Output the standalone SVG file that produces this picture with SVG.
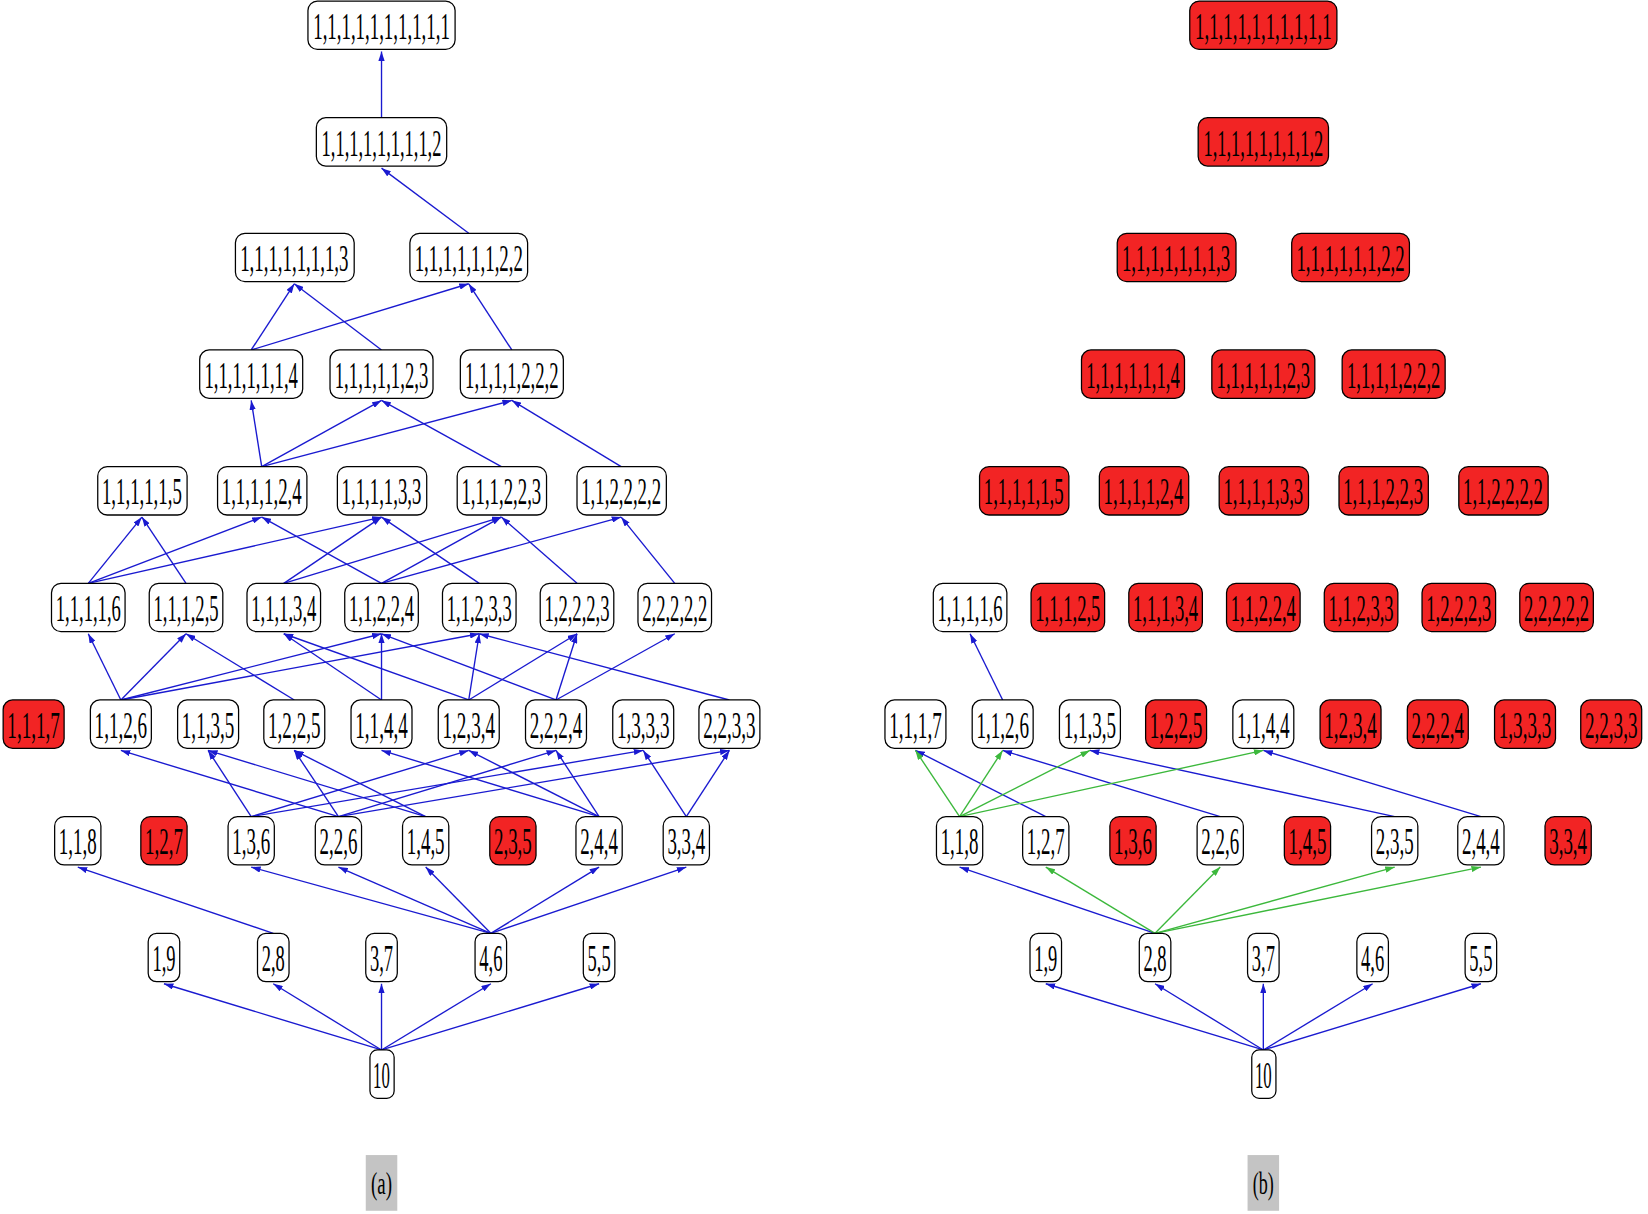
<svg xmlns="http://www.w3.org/2000/svg" width="1648" height="1214" viewBox="0 0 1648 1214">
<style>
.n rect{fill:#fff;stroke:#000;stroke-width:1.2}
.r rect{fill:#f22424;stroke:#000;stroke-width:1.2}
text{font-family:"Liberation Serif","DejaVu Serif",serif;font-size:36px;fill:#000;text-anchor:middle}
.eb line{stroke:#1a1ad0;stroke-width:1.3;marker-end:url(#ab)}
.eg line{stroke:#3cb83c;stroke-width:1.3;marker-end:url(#ag)}
.lab rect{fill:#c4c4c4}
</style>
<defs>
<marker id="ab" markerUnits="userSpaceOnUse" markerWidth="9" markerHeight="6" refX="9" refY="3" orient="auto"><path d="M0,0L9,3L0,6z" fill="#1a1ad0"/></marker>
<marker id="ag" markerUnits="userSpaceOnUse" markerWidth="9" markerHeight="6" refX="9" refY="3" orient="auto"><path d="M0,0L9,3L0,6z" fill="#3cb83c"/></marker>
</defs>
<rect width="1648" height="1214" fill="#fff"/>
<g transform="scale(1.05102)">
<g id="connectors">
<g class="eb">
<!-- panel a -->
<line x1="363" y1="112" x2="363" y2="49"/>
<line x1="446" y1="222" x2="363" y2="160"/>
<line x1="239" y1="333" x2="280" y2="270"/><line x1="239" y1="333" x2="446" y2="270"/><line x1="363" y1="333" x2="280" y2="270"/><line x1="487" y1="333" x2="446" y2="270"/>
<line x1="249" y1="444" x2="239" y2="381"/><line x1="249" y1="444" x2="363" y2="381"/><line x1="249" y1="444" x2="487" y2="381"/><line x1="477" y1="444" x2="363" y2="381"/><line x1="591" y1="444" x2="487" y2="381"/>
<line x1="84" y1="555" x2="135" y2="492"/><line x1="84" y1="555" x2="249" y2="492"/><line x1="84" y1="555" x2="363" y2="492"/><line x1="177" y1="555" x2="135" y2="492"/><line x1="270" y1="555" x2="363" y2="492"/><line x1="270" y1="555" x2="477" y2="492"/><line x1="363" y1="555" x2="249" y2="492"/><line x1="363" y1="555" x2="477" y2="492"/><line x1="363" y1="555" x2="591" y2="492"/><line x1="456" y1="555" x2="363" y2="492"/><line x1="549" y1="555" x2="477" y2="492"/><line x1="642" y1="555" x2="591" y2="492"/>
<line x1="115" y1="666" x2="84" y2="603"/><line x1="115" y1="666" x2="177" y2="603"/><line x1="115" y1="666" x2="363" y2="603"/><line x1="115" y1="666" x2="456" y2="603"/><line x1="280" y1="666" x2="177" y2="603"/><line x1="363" y1="666" x2="270" y2="603"/><line x1="363" y1="666" x2="363" y2="603"/><line x1="446" y1="666" x2="270" y2="603"/><line x1="446" y1="666" x2="456" y2="603"/><line x1="446" y1="666" x2="549" y2="603"/><line x1="529" y1="666" x2="363" y2="603"/><line x1="529" y1="666" x2="549" y2="603"/><line x1="529" y1="666" x2="642" y2="603"/><line x1="694" y1="666" x2="456" y2="603"/>
<line x1="239" y1="777" x2="198" y2="714"/><line x1="239" y1="777" x2="446" y2="714"/><line x1="239" y1="777" x2="612" y2="714"/><line x1="322" y1="777" x2="115" y2="714"/><line x1="322" y1="777" x2="280" y2="714"/><line x1="322" y1="777" x2="529" y2="714"/><line x1="322" y1="777" x2="694" y2="714"/><line x1="405" y1="777" x2="198" y2="714"/><line x1="405" y1="777" x2="280" y2="714"/><line x1="570" y1="777" x2="363" y2="714"/><line x1="570" y1="777" x2="446" y2="714"/><line x1="570" y1="777" x2="529" y2="714"/><line x1="653" y1="777" x2="612" y2="714"/><line x1="653" y1="777" x2="694" y2="714"/>
<line x1="260" y1="888" x2="74" y2="825"/><line x1="467" y1="888" x2="239" y2="825"/><line x1="467" y1="888" x2="322" y2="825"/><line x1="467" y1="888" x2="405" y2="825"/><line x1="467" y1="888" x2="570" y2="825"/><line x1="467" y1="888" x2="653" y2="825"/>
<line x1="363" y1="999" x2="156" y2="936"/><line x1="363" y1="999" x2="260" y2="936"/><line x1="363" y1="999" x2="363" y2="936"/><line x1="363" y1="999" x2="467" y2="936"/><line x1="363" y1="999" x2="570" y2="936"/>
<!-- panel b -->
<line x1="954" y1="666" x2="923" y2="603"/>
<line x1="995" y1="777" x2="871" y2="714"/><line x1="1161" y1="777" x2="954" y2="714"/><line x1="1327" y1="777" x2="1037" y2="714"/><line x1="1409" y1="777" x2="1202" y2="714"/>
<line x1="1099" y1="888" x2="913" y2="825"/>
<line x1="1202" y1="999" x2="995" y2="936"/><line x1="1202" y1="999" x2="1099" y2="936"/><line x1="1202" y1="999" x2="1202" y2="936"/><line x1="1202" y1="999" x2="1306" y2="936"/><line x1="1202" y1="999" x2="1409" y2="936"/>
</g>
<g class="eg">
<line x1="913" y1="777" x2="871" y2="714"/><line x1="913" y1="777" x2="954" y2="714"/><line x1="913" y1="777" x2="1037" y2="714"/><line x1="913" y1="777" x2="1202" y2="714"/>
<line x1="1099" y1="888" x2="995" y2="825"/><line x1="1099" y1="888" x2="1161" y2="825"/><line x1="1099" y1="888" x2="1327" y2="825"/><line x1="1099" y1="888" x2="1409" y2="825"/>
</g>
</g>
<g id="nodes-a">
<g id="a0_0" class="n"><rect x="293" y="1" width="140" height="46" rx="9"/><text x="363" y="37" textLength="130" lengthAdjust="spacingAndGlyphs">1,1,1,1,1,1,1,1,1,1</text></g>
<g id="a1_0" class="n"><rect x="301" y="112" width="124" height="46" rx="9"/><text x="363" y="148" textLength="114" lengthAdjust="spacingAndGlyphs">1,1,1,1,1,1,1,1,2</text></g>
<g id="a2_0" class="n"><rect x="224" y="222" width="113" height="46" rx="9"/><text x="280" y="258" textLength="103" lengthAdjust="spacingAndGlyphs">1,1,1,1,1,1,1,3</text></g>
<g id="a2_1" class="n"><rect x="390" y="222" width="112" height="46" rx="9"/><text x="446" y="258" textLength="103" lengthAdjust="spacingAndGlyphs">1,1,1,1,1,1,2,2</text></g>
<g id="a3_0" class="n"><rect x="190" y="333" width="98" height="46" rx="9"/><text x="239" y="369" textLength="89" lengthAdjust="spacingAndGlyphs">1,1,1,1,1,1,4</text></g>
<g id="a3_1" class="n"><rect x="314" y="333" width="98" height="46" rx="9"/><text x="363" y="369" textLength="89" lengthAdjust="spacingAndGlyphs">1,1,1,1,1,2,3</text></g>
<g id="a3_2" class="n"><rect x="438" y="333" width="98" height="46" rx="9"/><text x="487" y="369" textLength="89" lengthAdjust="spacingAndGlyphs">1,1,1,1,2,2,2</text></g>
<g id="a4_0" class="n"><rect x="93" y="444" width="85" height="46" rx="9"/><text x="135" y="480" textLength="76" lengthAdjust="spacingAndGlyphs">1,1,1,1,1,5</text></g>
<g id="a4_1" class="n"><rect x="207" y="444" width="85" height="46" rx="9"/><text x="249" y="480" textLength="76" lengthAdjust="spacingAndGlyphs">1,1,1,1,2,4</text></g>
<g id="a4_2" class="n"><rect x="321" y="444" width="85" height="46" rx="9"/><text x="363" y="480" textLength="76" lengthAdjust="spacingAndGlyphs">1,1,1,1,3,3</text></g>
<g id="a4_3" class="n"><rect x="435" y="444" width="85" height="46" rx="9"/><text x="477" y="480" textLength="76" lengthAdjust="spacingAndGlyphs">1,1,1,2,2,3</text></g>
<g id="a4_4" class="n"><rect x="549" y="444" width="85" height="46" rx="9"/><text x="591" y="480" textLength="76" lengthAdjust="spacingAndGlyphs">1,1,2,2,2,2</text></g>
<g id="a5_0" class="n"><rect x="49" y="555" width="70" height="46" rx="9"/><text x="84" y="591" textLength="62" lengthAdjust="spacingAndGlyphs">1,1,1,1,6</text></g>
<g id="a5_1" class="n"><rect x="142" y="555" width="70" height="46" rx="9"/><text x="177" y="591" textLength="62" lengthAdjust="spacingAndGlyphs">1,1,1,2,5</text></g>
<g id="a5_2" class="n"><rect x="235" y="555" width="70" height="46" rx="9"/><text x="270" y="591" textLength="62" lengthAdjust="spacingAndGlyphs">1,1,1,3,4</text></g>
<g id="a5_3" class="n"><rect x="328" y="555" width="70" height="46" rx="9"/><text x="363" y="591" textLength="62" lengthAdjust="spacingAndGlyphs">1,1,2,2,4</text></g>
<g id="a5_4" class="n"><rect x="421" y="555" width="70" height="46" rx="9"/><text x="456" y="591" textLength="62" lengthAdjust="spacingAndGlyphs">1,1,2,3,3</text></g>
<g id="a5_5" class="n"><rect x="514" y="555" width="70" height="46" rx="9"/><text x="549" y="591" textLength="62" lengthAdjust="spacingAndGlyphs">1,2,2,2,3</text></g>
<g id="a5_6" class="n"><rect x="607" y="555" width="70" height="46" rx="9"/><text x="642" y="591" textLength="62" lengthAdjust="spacingAndGlyphs">2,2,2,2,2</text></g>
<g id="a6_0" class="r"><rect x="3" y="666" width="58" height="46" rx="9"/><text x="32" y="702" textLength="50" lengthAdjust="spacingAndGlyphs">1,1,1,7</text></g>
<g id="a6_1" class="n"><rect x="86" y="666" width="58" height="46" rx="9"/><text x="115" y="702" textLength="50" lengthAdjust="spacingAndGlyphs">1,1,2,6</text></g>
<g id="a6_2" class="n"><rect x="169" y="666" width="58" height="46" rx="9"/><text x="198" y="702" textLength="50" lengthAdjust="spacingAndGlyphs">1,1,3,5</text></g>
<g id="a6_3" class="n"><rect x="251" y="666" width="58" height="46" rx="9"/><text x="280" y="702" textLength="50" lengthAdjust="spacingAndGlyphs">1,2,2,5</text></g>
<g id="a6_4" class="n"><rect x="334" y="666" width="58" height="46" rx="9"/><text x="363" y="702" textLength="50" lengthAdjust="spacingAndGlyphs">1,1,4,4</text></g>
<g id="a6_5" class="n"><rect x="417" y="666" width="58" height="46" rx="9"/><text x="446" y="702" textLength="50" lengthAdjust="spacingAndGlyphs">1,2,3,4</text></g>
<g id="a6_6" class="n"><rect x="500" y="666" width="58" height="46" rx="9"/><text x="529" y="702" textLength="50" lengthAdjust="spacingAndGlyphs">2,2,2,4</text></g>
<g id="a6_7" class="n"><rect x="583" y="666" width="58" height="46" rx="9"/><text x="612" y="702" textLength="50" lengthAdjust="spacingAndGlyphs">1,3,3,3</text></g>
<g id="a6_8" class="n"><rect x="665" y="666" width="58" height="46" rx="9"/><text x="694" y="702" textLength="50" lengthAdjust="spacingAndGlyphs">2,2,3,3</text></g>
<g id="a7_0" class="n"><rect x="52" y="777" width="44" height="46" rx="9"/><text x="74" y="813" textLength="36" lengthAdjust="spacingAndGlyphs">1,1,8</text></g>
<g id="a7_1" class="r"><rect x="134" y="777" width="44" height="46" rx="9"/><text x="156" y="813" textLength="36" lengthAdjust="spacingAndGlyphs">1,2,7</text></g>
<g id="a7_2" class="n"><rect x="217" y="777" width="44" height="46" rx="9"/><text x="239" y="813" textLength="36" lengthAdjust="spacingAndGlyphs">1,3,6</text></g>
<g id="a7_3" class="n"><rect x="300" y="777" width="44" height="46" rx="9"/><text x="322" y="813" textLength="36" lengthAdjust="spacingAndGlyphs">2,2,6</text></g>
<g id="a7_4" class="n"><rect x="383" y="777" width="44" height="46" rx="9"/><text x="405" y="813" textLength="36" lengthAdjust="spacingAndGlyphs">1,4,5</text></g>
<g id="a7_5" class="r"><rect x="466" y="777" width="44" height="46" rx="9"/><text x="488" y="813" textLength="36" lengthAdjust="spacingAndGlyphs">2,3,5</text></g>
<g id="a7_6" class="n"><rect x="548" y="777" width="44" height="46" rx="9"/><text x="570" y="813" textLength="36" lengthAdjust="spacingAndGlyphs">2,4,4</text></g>
<g id="a7_7" class="n"><rect x="631" y="777" width="44" height="46" rx="9"/><text x="653" y="813" textLength="36" lengthAdjust="spacingAndGlyphs">3,3,4</text></g>
<g id="a8_0" class="n"><rect x="141" y="888" width="30" height="46" rx="8"/><text x="156" y="924" textLength="22" lengthAdjust="spacingAndGlyphs">1,9</text></g>
<g id="a8_1" class="n"><rect x="245" y="888" width="30" height="46" rx="8"/><text x="260" y="924" textLength="22" lengthAdjust="spacingAndGlyphs">2,8</text></g>
<g id="a8_2" class="n"><rect x="348" y="888" width="30" height="46" rx="8"/><text x="363" y="924" textLength="22" lengthAdjust="spacingAndGlyphs">3,7</text></g>
<g id="a8_3" class="n"><rect x="452" y="888" width="30" height="46" rx="8"/><text x="467" y="924" textLength="22" lengthAdjust="spacingAndGlyphs">4,6</text></g>
<g id="a8_4" class="n"><rect x="555" y="888" width="30" height="46" rx="8"/><text x="570" y="924" textLength="22" lengthAdjust="spacingAndGlyphs">5,5</text></g>
<g id="a9_0" class="n"><rect x="352" y="999" width="23" height="46" rx="7"/><text x="363" y="1035" textLength="16" lengthAdjust="spacingAndGlyphs">10</text></g>
</g>
<g id="nodes-b">
<g id="b0_0" class="r"><rect x="1132" y="1" width="140" height="46" rx="9"/><text x="1202" y="37" textLength="130" lengthAdjust="spacingAndGlyphs">1,1,1,1,1,1,1,1,1,1</text></g>
<g id="b1_0" class="r"><rect x="1140" y="112" width="124" height="46" rx="9"/><text x="1202" y="148" textLength="114" lengthAdjust="spacingAndGlyphs">1,1,1,1,1,1,1,1,2</text></g>
<g id="b2_0" class="r"><rect x="1063" y="222" width="113" height="46" rx="9"/><text x="1119" y="258" textLength="103" lengthAdjust="spacingAndGlyphs">1,1,1,1,1,1,1,3</text></g>
<g id="b2_1" class="r"><rect x="1229" y="222" width="112" height="46" rx="9"/><text x="1285" y="258" textLength="103" lengthAdjust="spacingAndGlyphs">1,1,1,1,1,1,2,2</text></g>
<g id="b3_0" class="r"><rect x="1029" y="333" width="98" height="46" rx="9"/><text x="1078" y="369" textLength="89" lengthAdjust="spacingAndGlyphs">1,1,1,1,1,1,4</text></g>
<g id="b3_1" class="r"><rect x="1153" y="333" width="98" height="46" rx="9"/><text x="1202" y="369" textLength="89" lengthAdjust="spacingAndGlyphs">1,1,1,1,1,2,3</text></g>
<g id="b3_2" class="r"><rect x="1277" y="333" width="98" height="46" rx="9"/><text x="1326" y="369" textLength="89" lengthAdjust="spacingAndGlyphs">1,1,1,1,2,2,2</text></g>
<g id="b4_0" class="r"><rect x="932" y="444" width="85" height="46" rx="9"/><text x="974" y="480" textLength="76" lengthAdjust="spacingAndGlyphs">1,1,1,1,1,5</text></g>
<g id="b4_1" class="r"><rect x="1046" y="444" width="85" height="46" rx="9"/><text x="1088" y="480" textLength="76" lengthAdjust="spacingAndGlyphs">1,1,1,1,2,4</text></g>
<g id="b4_2" class="r"><rect x="1160" y="444" width="85" height="46" rx="9"/><text x="1202" y="480" textLength="76" lengthAdjust="spacingAndGlyphs">1,1,1,1,3,3</text></g>
<g id="b4_3" class="r"><rect x="1274" y="444" width="85" height="46" rx="9"/><text x="1316" y="480" textLength="76" lengthAdjust="spacingAndGlyphs">1,1,1,2,2,3</text></g>
<g id="b4_4" class="r"><rect x="1388" y="444" width="85" height="46" rx="9"/><text x="1430" y="480" textLength="76" lengthAdjust="spacingAndGlyphs">1,1,2,2,2,2</text></g>
<g id="b5_0" class="n"><rect x="888" y="555" width="70" height="46" rx="9"/><text x="923" y="591" textLength="62" lengthAdjust="spacingAndGlyphs">1,1,1,1,6</text></g>
<g id="b5_1" class="r"><rect x="981" y="555" width="70" height="46" rx="9"/><text x="1016" y="591" textLength="62" lengthAdjust="spacingAndGlyphs">1,1,1,2,5</text></g>
<g id="b5_2" class="r"><rect x="1074" y="555" width="70" height="46" rx="9"/><text x="1109" y="591" textLength="62" lengthAdjust="spacingAndGlyphs">1,1,1,3,4</text></g>
<g id="b5_3" class="r"><rect x="1167" y="555" width="70" height="46" rx="9"/><text x="1202" y="591" textLength="62" lengthAdjust="spacingAndGlyphs">1,1,2,2,4</text></g>
<g id="b5_4" class="r"><rect x="1260" y="555" width="70" height="46" rx="9"/><text x="1295" y="591" textLength="62" lengthAdjust="spacingAndGlyphs">1,1,2,3,3</text></g>
<g id="b5_5" class="r"><rect x="1353" y="555" width="70" height="46" rx="9"/><text x="1388" y="591" textLength="62" lengthAdjust="spacingAndGlyphs">1,2,2,2,3</text></g>
<g id="b5_6" class="r"><rect x="1446" y="555" width="70" height="46" rx="9"/><text x="1481" y="591" textLength="62" lengthAdjust="spacingAndGlyphs">2,2,2,2,2</text></g>
<g id="b6_0" class="n"><rect x="842" y="666" width="58" height="46" rx="9"/><text x="871" y="702" textLength="50" lengthAdjust="spacingAndGlyphs">1,1,1,7</text></g>
<g id="b6_1" class="n"><rect x="925" y="666" width="58" height="46" rx="9"/><text x="954" y="702" textLength="50" lengthAdjust="spacingAndGlyphs">1,1,2,6</text></g>
<g id="b6_2" class="n"><rect x="1008" y="666" width="58" height="46" rx="9"/><text x="1037" y="702" textLength="50" lengthAdjust="spacingAndGlyphs">1,1,3,5</text></g>
<g id="b6_3" class="r"><rect x="1090" y="666" width="58" height="46" rx="9"/><text x="1119" y="702" textLength="50" lengthAdjust="spacingAndGlyphs">1,2,2,5</text></g>
<g id="b6_4" class="n"><rect x="1173" y="666" width="58" height="46" rx="9"/><text x="1202" y="702" textLength="50" lengthAdjust="spacingAndGlyphs">1,1,4,4</text></g>
<g id="b6_5" class="r"><rect x="1256" y="666" width="58" height="46" rx="9"/><text x="1285" y="702" textLength="50" lengthAdjust="spacingAndGlyphs">1,2,3,4</text></g>
<g id="b6_6" class="r"><rect x="1339" y="666" width="58" height="46" rx="9"/><text x="1368" y="702" textLength="50" lengthAdjust="spacingAndGlyphs">2,2,2,4</text></g>
<g id="b6_7" class="r"><rect x="1422" y="666" width="58" height="46" rx="9"/><text x="1451" y="702" textLength="50" lengthAdjust="spacingAndGlyphs">1,3,3,3</text></g>
<g id="b6_8" class="r"><rect x="1504" y="666" width="58" height="46" rx="9"/><text x="1533" y="702" textLength="50" lengthAdjust="spacingAndGlyphs">2,2,3,3</text></g>
<g id="b7_0" class="n"><rect x="891" y="777" width="44" height="46" rx="9"/><text x="913" y="813" textLength="36" lengthAdjust="spacingAndGlyphs">1,1,8</text></g>
<g id="b7_1" class="n"><rect x="973" y="777" width="44" height="46" rx="9"/><text x="995" y="813" textLength="36" lengthAdjust="spacingAndGlyphs">1,2,7</text></g>
<g id="b7_2" class="r"><rect x="1056" y="777" width="44" height="46" rx="9"/><text x="1078" y="813" textLength="36" lengthAdjust="spacingAndGlyphs">1,3,6</text></g>
<g id="b7_3" class="n"><rect x="1139" y="777" width="44" height="46" rx="9"/><text x="1161" y="813" textLength="36" lengthAdjust="spacingAndGlyphs">2,2,6</text></g>
<g id="b7_4" class="r"><rect x="1222" y="777" width="44" height="46" rx="9"/><text x="1244" y="813" textLength="36" lengthAdjust="spacingAndGlyphs">1,4,5</text></g>
<g id="b7_5" class="n"><rect x="1305" y="777" width="44" height="46" rx="9"/><text x="1327" y="813" textLength="36" lengthAdjust="spacingAndGlyphs">2,3,5</text></g>
<g id="b7_6" class="n"><rect x="1387" y="777" width="44" height="46" rx="9"/><text x="1409" y="813" textLength="36" lengthAdjust="spacingAndGlyphs">2,4,4</text></g>
<g id="b7_7" class="r"><rect x="1470" y="777" width="44" height="46" rx="9"/><text x="1492" y="813" textLength="36" lengthAdjust="spacingAndGlyphs">3,3,4</text></g>
<g id="b8_0" class="n"><rect x="980" y="888" width="30" height="46" rx="8"/><text x="995" y="924" textLength="22" lengthAdjust="spacingAndGlyphs">1,9</text></g>
<g id="b8_1" class="n"><rect x="1084" y="888" width="30" height="46" rx="8"/><text x="1099" y="924" textLength="22" lengthAdjust="spacingAndGlyphs">2,8</text></g>
<g id="b8_2" class="n"><rect x="1187" y="888" width="30" height="46" rx="8"/><text x="1202" y="924" textLength="22" lengthAdjust="spacingAndGlyphs">3,7</text></g>
<g id="b8_3" class="n"><rect x="1291" y="888" width="30" height="46" rx="8"/><text x="1306" y="924" textLength="22" lengthAdjust="spacingAndGlyphs">4,6</text></g>
<g id="b8_4" class="n"><rect x="1394" y="888" width="30" height="46" rx="8"/><text x="1409" y="924" textLength="22" lengthAdjust="spacingAndGlyphs">5,5</text></g>
<g id="b9_0" class="n"><rect x="1191" y="999" width="23" height="46" rx="7"/><text x="1202" y="1035" textLength="16" lengthAdjust="spacingAndGlyphs">10</text></g>
</g>
<g id="label-a" class="lab"><rect x="348" y="1099" width="30" height="53"/><text x="363" y="1136" textLength="20" lengthAdjust="spacingAndGlyphs" style="font-size:30px">(a)</text></g>
<g id="label-b" class="lab"><rect x="1187" y="1099" width="30" height="53"/><text x="1202" y="1136" textLength="20" lengthAdjust="spacingAndGlyphs" style="font-size:30px">(b)</text></g>
</g>
</svg>
